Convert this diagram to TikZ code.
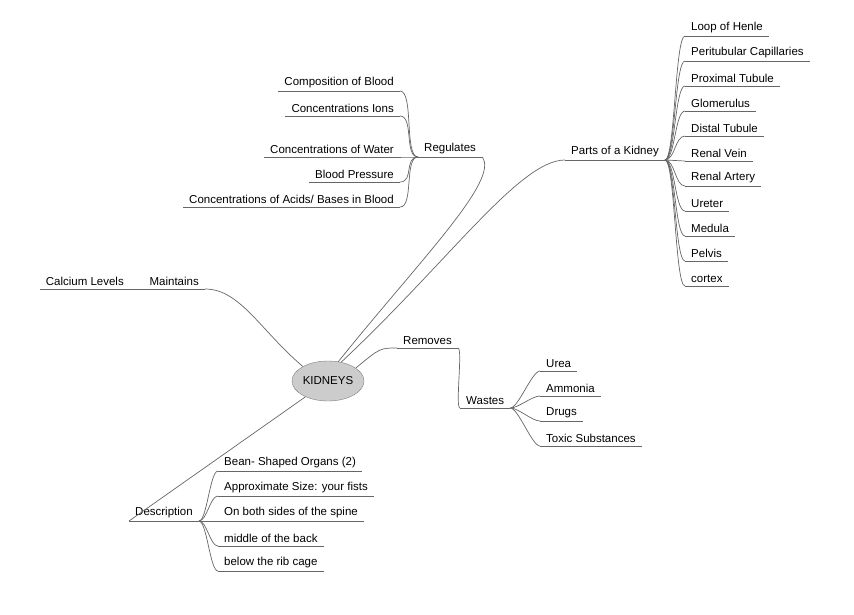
\documentclass[tikz,border=0pt]{standalone}
\usepackage{fontspec}
\setmainfont{Liberation Sans}
\usetikzlibrary{shapes.geometric}
\begin{document}
\begin{tikzpicture}[x=1pt,y=-1pt,
  every node/.style={font=\fontsize{11.5}{13}\selectfont},
  topic/.style={anchor=south west,inner xsep=6pt,inner ysep=3pt},
  ltopic/.style={anchor=south east,inner xsep=6pt,inner ysep=3pt},
  uline/.style={draw=gray!80!black,line width=0.7pt},
  link/.style={draw=gray!80!black,line width=0.7pt}]
\useasboundingbox (0,0) rectangle (854,614);
\node[ellipse,draw=gray,fill=gray!40,minimum width=72pt,minimum height=40pt,inner sep=0pt] (k) at (328,381) {KIDNEYS};
% Regulates
\node[topic] (reg) at (418,157) {Regulates};
\node[ltopic] (r1) at (400,91) {Composition of Blood};
\node[ltopic] (r2) at (400,116) {Concentrations Ions};
\node[ltopic] (r3) at (400,157) {Concentrations of Water};
\node[ltopic] (r4) at (400,182) {Blood Pressure};
\node[ltopic] (r5) at (400,207) {Concentrations of Acids/ Bases in Blood};
% Parts of a Kidney
\node[topic] (parts) at (565,160) {Parts of a Kidney};
\foreach \t [count=\i] in {Loop of Henle,Peritubular Capillaries,Proximal Tubule,Glomerulus,Distal Tubule,Renal Vein,Renal Artery,Ureter,Medula,Pelvis,cortex}
  \node[topic] (p\i) at (685,{11+25*\i}) {\t};
% Maintains
\node[ltopic] (mt) at (205,289) {Maintains};
\node[ltopic] (ca) at (130,289) {Calcium Levels};
% Removes
\node[topic] (rem) at (397,348) {Removes};
\node[topic] (ws) at (460,408) {Wastes};
\foreach \t [count=\i] in {Urea,Ammonia,Drugs,Toxic Substances}
  \node[topic] (w\i) at (540,{346+25*\i}) {\t};
% Description
\node[topic] (ds) at (129,521) {Description};
\foreach \t [count=\i] in {Bean- Shaped Organs (2),Approximate Size: your fists,On both sides of the spine,middle of the back,below the rib cage}
  \node[topic] (d\i) at (218,{446+25*\i}) {\t};
% underlines
\foreach \n in {reg,r1,r2,r3,r4,r5,parts,p1,p2,p3,p4,p5,p6,p7,p8,p9,p10,p11,mt,ca,rem,ws,w1,w2,w3,w4,ds,d1,d2,d3,d4,d5}
  \draw[uline] (\n.south west) -- (\n.south east);
% connectors from the centre
\draw[link] (k.62) .. controls (420,260) and (500,180) .. (reg.south east);
\draw[link] (k.55) .. controls (450,260) and (520,160) .. (parts.south west);
\draw[link] (k.150) .. controls (260,330) and (240,289) .. (mt.south east);
\draw[link] (k.25) .. controls (380,348) and (380,348) .. (rem.south west);
\draw[link] (k.215) -- (ds.south west);
% branch connectors
\foreach \n in {r1,r2,r3,r4,r5}
  \draw[link] (reg.south west) .. controls +(-14,0) and +(14,0) .. (\n.south east);
\foreach \i in {1,...,11}
  \draw[link] (parts.south east) .. controls +(10,0) and +(-10,0) .. (p\i.south west);
\draw[link] (mt.south west) -- (ca.south east);
\draw[link] (rem.south east) .. controls +(5,0) and +(-5,0) .. (ws.south west);
\foreach \i in {1,...,4}
  \draw[link] (ws.south east) .. controls +(8,0) and +(-8,0) .. (w\i.south west);
\foreach \i in {1,...,5}
  \draw[link] (ds.south east) .. controls +(8,0) and +(-8,0) .. (d\i.south west);
\end{tikzpicture}
\end{document}
